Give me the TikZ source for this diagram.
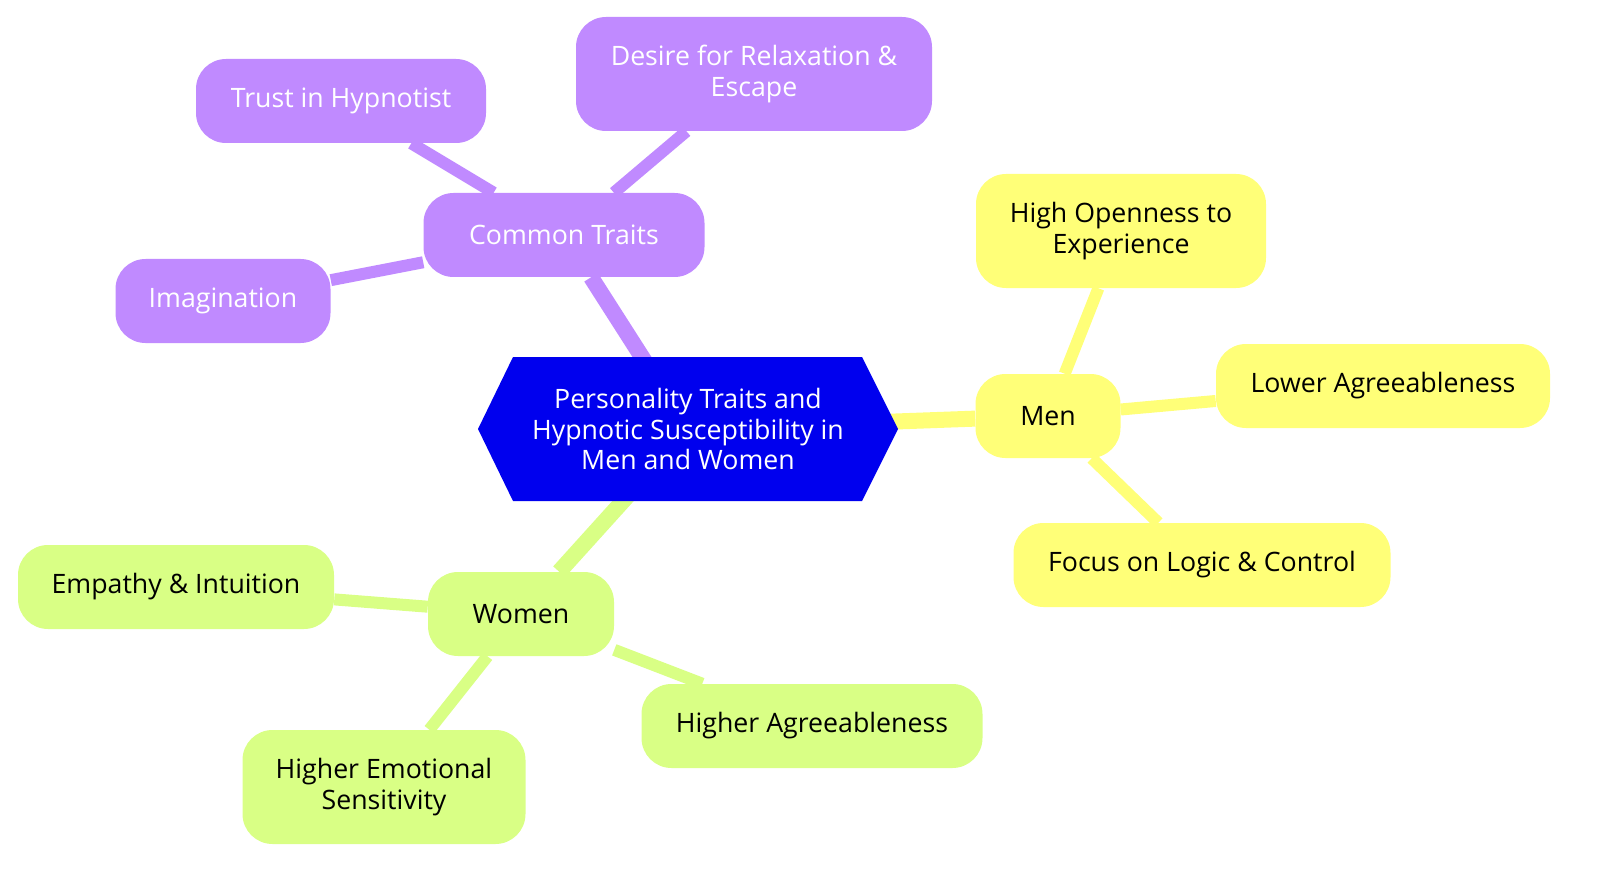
\documentclass[tikz,border=0pt]{standalone}
\usepackage{fontspec}
\setmainfont{Open Sans}
\usetikzlibrary{backgrounds}
\definecolor{hubblue}{HTML}{0000EE}
\definecolor{traitpurple}{HTML}{C08AFF}
\definecolor{menyellow}{HTML}{FFFF78}
\definecolor{womengreen}{HTML}{D9FF85}
\tikzset{
  box/.style={rounded corners=0.75cm, inner sep=0pt, align=center, font=\fontsize{19}{22}\selectfont},
  purplebox/.style={box, fill=traitpurple, text=white},
  yellowbox/.style={box, fill=menyellow},
  greenbox/.style={box, fill=womengreen},
  sz/.style 2 args={minimum width=#1*0.025cm, minimum height=#2*0.025cm},
  thick link/.style={line width=0.4cm},
  thin link/.style={line width=0.3cm},
}
\begin{document}
\begin{tikzpicture}[x=0.025cm, y=-0.025cm]
  % central topic
  \fill[hubblue] (478,429) -- (513,357) -- (862,357) -- (898,429) -- (862,501) -- (513,501) -- cycle;
  \node[box, text=white] (hub) at (688,429) {Personality Traits and\\Hypnotic Susceptibility in\\Men and Women};
  % common traits
  \node[purplebox, sz={281}{84}] (common) at (564,235) {Common Traits};
  \node[purplebox, sz={290}{84}] (trust) at (341,101) {Trust in Hypnotist};
  \node[purplebox, sz={356}{114}] (desire) at (754,74) {Desire for Relaxation \&\\Escape};
  \node[purplebox, sz={215}{84}] (imagination) at (223,301) {Imagination};
  % men
  \node[yellowbox, sz={145}{84}] (men) at (1048,416) {Men};
  \node[yellowbox, sz={290}{114}] (openness) at (1121,231) {High Openness to\\Experience};
  \node[yellowbox, sz={334}{84}] (loweragree) at (1383,386) {Lower Agreeableness};
  \node[yellowbox, sz={377}{84}] (logic) at (1202,565) {Focus on Logic \& Control};
  % women
  \node[greenbox, sz={186}{84}] (women) at (521,614) {Women};
  \node[greenbox, sz={316}{84}] (empathy) at (176,587) {Empathy \& Intuition};
  \node[greenbox, sz={283}{114}] (emotional) at (384,787) {Higher Emotional\\Sensitivity};
  \node[greenbox, sz={341}{84}] (higheragree) at (812,726) {Higher Agreeableness};
  \begin{scope}[on background layer]
    \draw[traitpurple, thick link] (hub) -- (common);
    \draw[traitpurple, thin link] (common) -- (trust);
    \draw[traitpurple, thin link] (common) -- (desire);
    \draw[traitpurple, thin link] (common) -- (imagination);
    \draw[menyellow, thick link] (hub) -- (men);
    \draw[menyellow, thin link] (men) -- (openness);
    \draw[menyellow, thin link] (men) -- (loweragree);
    \draw[menyellow, thin link] (men) -- (logic);
    \draw[womengreen, thick link] (hub) -- (women);
    \draw[womengreen, thin link] (women) -- (empathy);
    \draw[womengreen, thin link] (women) -- (emotional);
    \draw[womengreen, thin link] (women) -- (higheragree);
  \end{scope}
  \pgfresetboundingbox
  \useasboundingbox (0,0) rectangle (1600,880);
\end{tikzpicture}
\end{document}
